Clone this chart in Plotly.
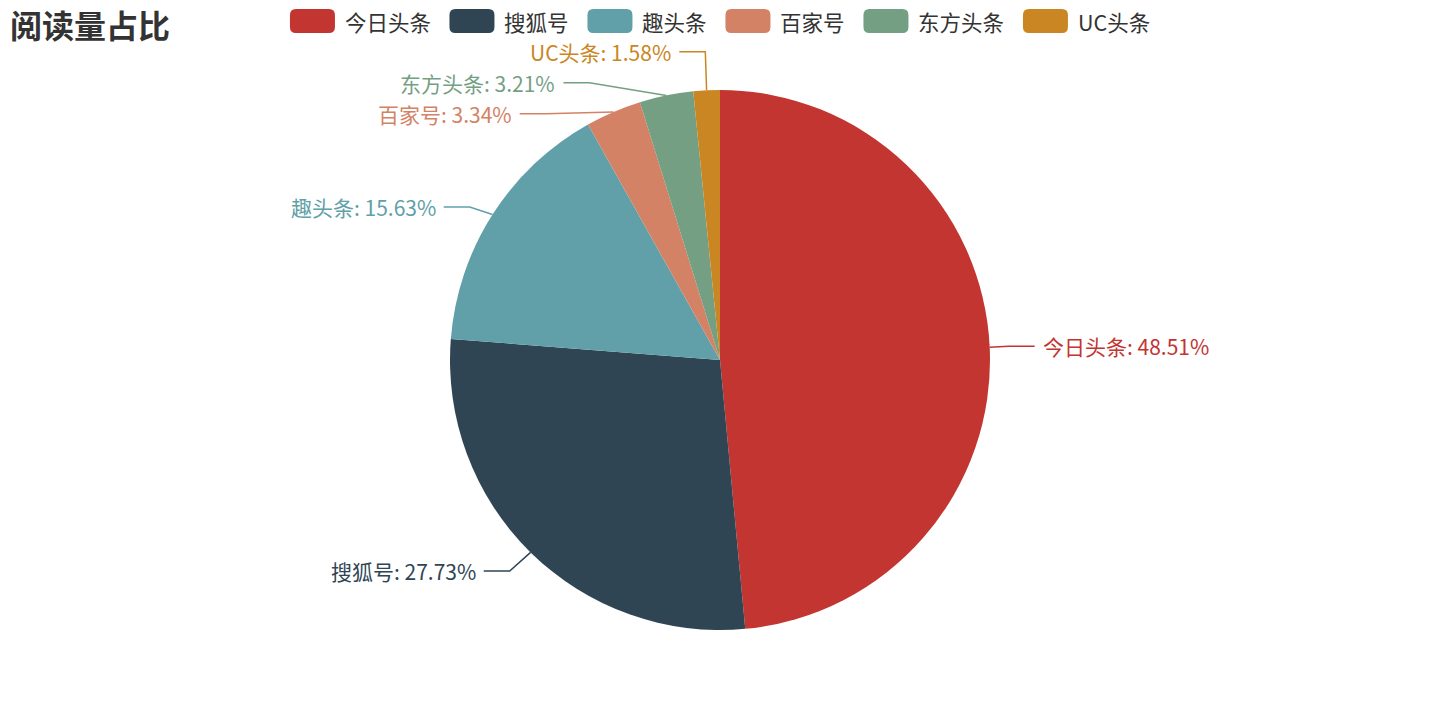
import math
import plotly.graph_objects as go

# ---------------- data ----------------
categories = ["今日头条", "搜狐号", "趣头条", "百家号", "东方头条", "UC头条"]
shares = [48.51, 27.73, 15.63, 3.34, 3.21, 1.58]
colors = ["#c23531", "#2f4554", "#61a0a8", "#d48265", "#749f83", "#ca8622"]
title_text = "阅读量占比"

# ---------------- layout constants (pixels) ----------------
W, H = 1440, 720
MT, MB = 90, 90
PH = H - MT - MB
CX, CY = W / 2, MT + PH / 2
R = PH / 2
LEN1, LEN2 = 26, 26
GAP = 7
LABEL_H = 31
FONT = "Noto Sans CJK SC, Microsoft YaHei, sans-serif"
LABEL_SIZE = 21
LEGEND_SIZE = 21.5


def px(x):
    return x / W


def py(y):
    return (H - MB - y) / PH


# ---------------- pie ----------------
fig = go.Figure(go.Pie(
    labels=categories, values=shares, sort=False, direction="clockwise",
    rotation=0, textinfo="none", marker=dict(colors=colors),
    showlegend=False, hovertemplate="%{label}: %{value}%<extra></extra>",
))

# ---------------- label layout (echarts-like) ----------------
total = sum(shares)
labels = []
cum = 0.0
for i, v in enumerate(shares):
    th = 2 * math.pi * (cum + v / 2) / total
    cum += v
    s, c = math.sin(th), math.cos(th)
    d = 1 if s >= 0 else -1
    x2 = CX + (R + LEN1) * s
    y2 = CY - (R + LEN1) * c
    labels.append(dict(i=i, sx=CX + R * s, sy=CY - R * c, x2=x2,
                       y=y2, dir=d, x=x2 + d * LEN2 + d * GAP))


def adjust_side(lst):
    lst.sort(key=lambda a: a["y"])
    n = len(lst)

    def shift_up(end, delta):
        for j in range(end, -1, -1):
            lst[j]["y"] -= delta
            if j > 0 and lst[j]["y"] > lst[j - 1]["y"] + LABEL_H:
                break

    def shift_down(start, end, delta):
        for j in range(start, end):
            lst[j]["y"] += delta
            if j > start and j + 1 < end and lst[j + 1]["y"] > lst[j]["y"] + LABEL_H:
                shift_up(j, delta / 2)
                return
        shift_up(end - 1, delta / 2)

    last = 0
    for k in range(n):
        top = lst[k]["y"] - LABEL_H / 2
        delta = top - last
        if delta < 0:
            shift_down(k, n, -delta)
        last = lst[k]["y"] + LABEL_H / 2

    up = [a for a in lst if a["y"] < CY]
    down = [a for a in lst if a["y"] >= CY]
    for group, is_down in ((up, False), (down, True)):
        last_dx = float("inf") if is_down else 0
        for a in group:
            dy = abs(a["y"] - CY)
            if dy < R + LEN1:
                dx = math.sqrt((R + LEN1 + LEN2) ** 2 - dy ** 2)
            else:
                dx = abs(a["x"] - CX)
            if is_down and dx >= last_dx:
                dx = last_dx - 10
            if not is_down and dx <= last_dx:
                dx = last_dx + 10
            a["x"] = CX + dx * a["dir"]
            last_dx = dx


adjust_side([a for a in labels if a["dir"] < 0])
adjust_side([a for a in labels if a["dir"] > 0])

annotations = []
shapes = []
for a in labels:
    i, d = a["i"], a["dir"]
    col = colors[i]
    end_x = a["x"] - d * GAP
    elbow_x = end_x - d * LEN2
    path = "M {} {} L {} {} L {} {}".format(
        px(a["sx"]), py(a["sy"]), px(elbow_x), py(a["y"]), px(end_x), py(a["y"]))
    shapes.append(dict(type="path", path=path, xref="paper", yref="paper",
                       line=dict(color=col, width=1.5), layer="above"))
    annotations.append(dict(
        x=px(a["x"]), y=py(a["y"]), xref="paper", yref="paper",
        text="{}: {:.2f}%".format(categories[i], shares[i]),
        showarrow=False, xanchor="left" if d > 0 else "right", yanchor="middle",
        font=dict(family=FONT, size=LABEL_SIZE, color=col), borderpad=0,
    ))

# ---------------- custom legend ----------------
ICON_W, ICON_H, ICON_R = 45, 24, 6
ICON_GAP, ITEM_GAP = 9, 19.5
LEG_Y = 21


def text_w(t):
    return sum(LEGEND_SIZE if ord(ch) > 127 else 0.7 * LEGEND_SIZE for ch in t)


widths = [ICON_W + ICON_GAP + text_w(t) for t in categories]
total_w = sum(widths) + ITEM_GAP * (len(categories) - 1)
x0 = CX - total_w / 2
for t, col, w in zip(categories, colors, widths):
    l, r_ = x0, x0 + ICON_W
    t_, b_ = LEG_Y - ICON_H / 2, LEG_Y + ICON_H / 2
    rr = ICON_R
    pts = [
        ("M", l + rr, t_), ("L", r_ - rr, t_), ("Q", r_, t_, r_, t_ + rr),
        ("L", r_, b_ - rr), ("Q", r_, b_, r_ - rr, b_), ("L", l + rr, b_),
        ("Q", l, b_, l, b_ - rr), ("L", l, t_ + rr), ("Q", l, t_, l + rr, t_),
    ]
    segs = []
    for p in pts:
        if p[0] == "Q":
            segs.append("Q {} {} {} {}".format(px(p[1]), py(p[2]), px(p[3]), py(p[4])))
        else:
            segs.append("{} {} {}".format(p[0], px(p[1]), py(p[2])))
    shapes.append(dict(type="path", path=" ".join(segs) + " Z", xref="paper", yref="paper",
                       fillcolor=col, line=dict(width=0), layer="above"))
    annotations.append(dict(
        x=px(r_ + ICON_GAP), y=py(LEG_Y), xref="paper", yref="paper", text=t,
        showarrow=False, xanchor="left", yanchor="middle", borderpad=0,
        font=dict(family=FONT, size=LEGEND_SIZE, color="#333333"),
    ))
    x0 += w + ITEM_GAP

# ---------------- title ----------------
annotations.append(dict(
    x=px(9), y=py(24), xref="paper", yref="paper", text="<b>" + title_text + "</b>",
    showarrow=False, xanchor="left", yanchor="middle", borderpad=0,
    font=dict(family=FONT, size=32, color="#333333"),
))

fig.update_layout(
    width=W, height=H,
    margin=dict(l=0, r=0, t=MT, b=MB, pad=0),
    paper_bgcolor="white", plot_bgcolor="white",
    annotations=annotations, shapes=shapes,
    font=dict(family=FONT),
)

fig.write_html(
    "out.html",
    config={"displayModeBar": False},
    post_script="document.body.style.margin='0px';document.body.style.overflow='hidden';",
)
